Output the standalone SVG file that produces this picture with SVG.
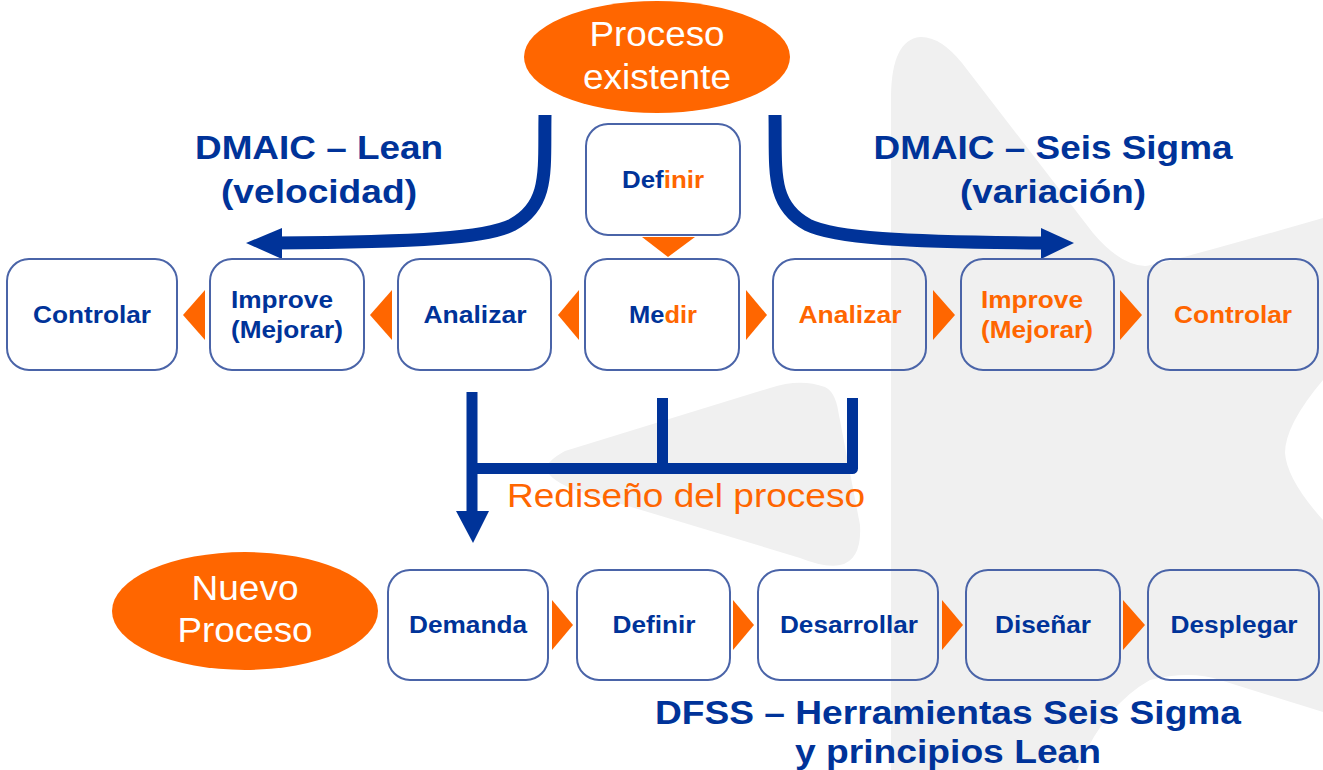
<svg xmlns="http://www.w3.org/2000/svg" width="1323" height="770" viewBox="0 0 1323 770">
<style>
text{font-family:"Liberation Sans",Arial,sans-serif;text-anchor:middle}
.box{fill:none;stroke:#4a64a8;stroke-width:2}
.l{font-size:23px;font-weight:bold;fill:#003399}
.o{fill:#ff6600}
.h{font-size:33px;font-weight:bold;fill:#003399}
.e{font-size:35px;fill:#fff}
.tri{fill:#ff6600}
.conn{fill:none;stroke:#003399}
.ah{fill:#003399}
</style>
<rect width="1323" height="770" fill="#fff"/>
<g id="background" fill="#f0f0f0">
<path d="M891 770V95Q892 40 920 37Q940 36 962 63L1093 233Q1120 265 1145 266Q1160 265 1323 218V380Q1285 425 1285 453Q1287 480 1323 520V712L1220 680Q1190 670 1150 680Q1105 705 1077 770Z"/>
<path d="M547 470Q545 462 565 451L770 388Q800 378 825 387Q835 392 838 410L860 525Q862 560 840 565Q825 568 800 558L575 490Q550 480 547 470Z"/>
</g>
<g id="connectors">
<path class="conn" stroke-width="13" d="M545 115C544 170 550 205 512 225C485 238 420 242 275 243"/>
<path class="ah" d="M246 243L282 228V259Z"/>
<path class="conn" stroke-width="13" d="M775 115C776 170 770 205 808 225C835 238 900 242 1045 243"/>
<path class="ah" d="M1074 243L1041 228V259Z"/>
<path class="conn" stroke-width="11" d="M472 392V515"/>
<path class="ah" d="M456 511H489L473 543Z"/>
<path class="conn" stroke-width="11" stroke-linejoin="round" d="M662.500 398V468M852.500 398V468.500H472"/>
<path class="tri" d="M642 237H695L668 257Z"/>
<path class="tri" d="M205 290V340L183 315Z"/>
<path class="tri" d="M392 290V340L370 315Z"/>
<path class="tri" d="M579 290V340L558 315Z"/>
<path class="tri" d="M746 290V340L767 315Z"/>
<path class="tri" d="M933 290V340L955 315Z"/>
<path class="tri" d="M1120 290V340L1142 315Z"/>
<path class="tri" d="M552 600V650L573 625Z"/>
<path class="tri" d="M733 600V650L754 625Z"/>
<path class="tri" d="M942 600V650L963 625Z"/>
<path class="tri" d="M1123 600V650L1145 625Z"/>
</g>
<g id="proceso-existente">
<ellipse cx="657" cy="57" rx="133" ry="56" fill="#ff6600"/>
<text class="e" x="657" y="46" textLength="135" lengthAdjust="spacingAndGlyphs">Proceso</text>
<text class="e" x="657" y="89" textLength="148" lengthAdjust="spacingAndGlyphs">existente</text>
</g>
<g id="title-lean"><text class="h" x="319" y="159" textLength="248" lengthAdjust="spacingAndGlyphs">DMAIC – Lean</text><text class="h" x="319" y="203" textLength="196" lengthAdjust="spacingAndGlyphs">(velocidad)</text></g>
<g id="title-sigma"><text class="h" x="1053" y="159" textLength="359" lengthAdjust="spacingAndGlyphs">DMAIC – Seis Sigma</text><text class="h" x="1053" y="203" textLength="186" lengthAdjust="spacingAndGlyphs">(variación)</text></g>
<g id="definir-top"><rect class="box" x="586" y="124" width="154" height="111" rx="22"/><text class="l" x="663" y="188" textLength="82" lengthAdjust="spacingAndGlyphs">Def<tspan class="o">inir</tspan></text></g>
<g id="controlar-l"><rect class="box" x="7" y="259" width="170" height="111" rx="22"/><text class="l" x="92" y="323" textLength="118" lengthAdjust="spacingAndGlyphs">Controlar</text></g>
<g id="improve-l"><rect class="box" x="210" y="259" width="154" height="111" rx="22"/><text class="l" x="282" y="308" textLength="102" lengthAdjust="spacingAndGlyphs">Improve</text><text class="l" x="287" y="338" textLength="112" lengthAdjust="spacingAndGlyphs">(Mejorar)</text></g>
<g id="analizar-l"><rect class="box" x="398" y="259" width="153" height="111" rx="22"/><text class="l" x="475" y="323" textLength="103" lengthAdjust="spacingAndGlyphs">Analizar</text></g>
<g id="medir"><rect class="box" x="585" y="259" width="154" height="111" rx="22"/><text class="l" x="663" y="323" textLength="68" lengthAdjust="spacingAndGlyphs">Me<tspan class="o">dir</tspan></text></g>
<g id="analizar-r"><rect class="box" x="773" y="259" width="153" height="111" rx="22"/><text class="l o" x="850" y="323" textLength="103" lengthAdjust="spacingAndGlyphs">Analizar</text></g>
<g id="improve-r"><rect class="box" x="961" y="259" width="153" height="111" rx="22"/><text class="l o" x="1032" y="308" textLength="102" lengthAdjust="spacingAndGlyphs">Improve</text><text class="l o" x="1037" y="338" textLength="112" lengthAdjust="spacingAndGlyphs">(Mejorar)</text></g>
<g id="controlar-r"><rect class="box" x="1148" y="259" width="170" height="111" rx="22"/><text class="l o" x="1233" y="323" textLength="118" lengthAdjust="spacingAndGlyphs">Controlar</text></g>
<g id="rediseno"><text x="686" y="507" font-size="34" fill="#ff6600" textLength="358" lengthAdjust="spacingAndGlyphs">Rediseño del proceso</text></g>
<g id="nuevo-proceso"><ellipse cx="245" cy="611" rx="133" ry="59" fill="#ff6600"/><text class="e" x="245" y="600" textLength="107" lengthAdjust="spacingAndGlyphs">Nuevo</text><text class="e" x="245" y="642" textLength="135" lengthAdjust="spacingAndGlyphs">Proceso</text></g>
<g id="demanda"><rect class="box" x="388" y="570" width="160" height="110" rx="22"/><text class="l" x="468" y="633" textLength="118" lengthAdjust="spacingAndGlyphs">Demanda</text></g>
<g id="definir"><rect class="box" x="577" y="570" width="153" height="110" rx="22"/><text class="l" x="654" y="633" textLength="83" lengthAdjust="spacingAndGlyphs">Definir</text></g>
<g id="desarrollar"><rect class="box" x="758" y="570" width="180" height="110" rx="22"/><text class="l" x="849" y="633" textLength="138" lengthAdjust="spacingAndGlyphs">Desarrollar</text></g>
<g id="disenar"><rect class="box" x="966" y="570" width="154" height="110" rx="22"/><text class="l" x="1043" y="633" textLength="96" lengthAdjust="spacingAndGlyphs">Diseñar</text></g>
<g id="desplegar"><rect class="box" x="1148" y="570" width="171" height="110" rx="22"/><text class="l" x="1234" y="633" textLength="127" lengthAdjust="spacingAndGlyphs">Desplegar</text></g>
<g id="title-dfss"><text class="h" x="948" y="724" textLength="586" lengthAdjust="spacingAndGlyphs">DFSS – Herramientas Seis Sigma</text><text class="h" x="948" y="763" textLength="306" lengthAdjust="spacingAndGlyphs">y principios Lean</text></g>
</svg>
